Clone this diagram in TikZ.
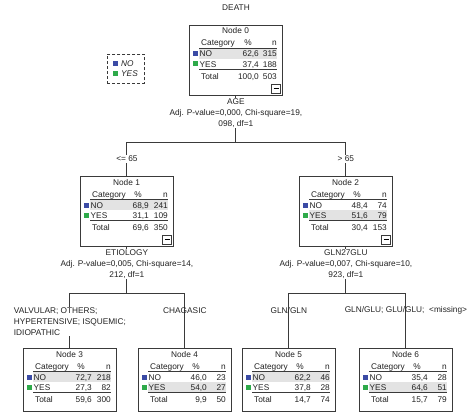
\documentclass[tikz,border=0pt]{standalone}
\usepackage{fontspec}
\setmainfont{Liberation Sans}
\usetikzlibrary{calc}
\definecolor{noblue}{HTML}{3B4BA5}
\definecolor{yesgreen}{HTML}{2EAA4A}
\definecolor{shadegray}{HTML}{E3E3E3}
\definecolor{inkc}{HTML}{222222}
\definecolor{linec}{HTML}{3A3A3A}
\newcommand\DTfont{\fontsize{8.3}{10.8}\selectfont}
\tikzset{
  dtbox/.style={draw=linec, line width=0.75pt, fill=white, minimum width=93pt, inner sep=0pt, anchor=north west},
  dttext/.style={font=\DTfont, text=inkc, inner sep=0pt},
  rule/.style={draw=linec, line width=0.6pt},
  dblrule/.style={draw=linec, line width=1.1pt},
  conn/.style={draw=linec, line width=0.8pt},
  splitlab/.style={font=\DTfont, text=inkc, align=center, fill=white, inner sep=1pt},
  branchlab/.style={font=\DTfont, text=inkc, inner sep=1pt},
  minusbox/.style={draw=linec, line width=0.6pt, fill=white, minimum size=9pt, inner sep=0pt, anchor=south east},
}
% #1 name, #2 number, #3 NO %, #4 NO n, #5 YES %, #6 YES n, #7 total %, #8 total n, #9 centre y of shaded row
\newcommand\DTnode[9]{%
  \node[dtbox, minimum height=\dth pt] (#1) at (0,0) {};
  \fill[shadegray] (9.5,#9-5) rectangle (88,#9+5);
  \node[dttext, anchor=base] (#1ttl) at (46.5,9) {Node #2};
  \node[dttext, anchor=base west] (#1hc) at (12,21) {Category};
  \node[dttext, anchor=base] (#1hp) at (\pctx-11,21) {\%};
  \node[dttext, anchor=base east] (#1hn) at (88,21) {n};
  \draw[rule] (10,23.5) -- (88,23.5);
  \fill[noblue] (3.5,26.5) rectangle (8.5,31.5);
  \node[dttext, anchor=base west] (#1nl) at (10.5,32) {NO};
  \node[dttext, anchor=base east] (#1np) at (\pctx,32) {#3};
  \node[dttext, anchor=base east] (#1nn) at (88,32) {#4};
  \fill[yesgreen] (3.5,36.5) rectangle (8.5,41.5);
  \node[dttext, anchor=base west] (#1yl) at (10.5,42) {YES};
  \node[dttext, anchor=base east] (#1yp) at (\pctx,42) {#5};
  \node[dttext, anchor=base east] (#1yn) at (88,42) {#6};
  \draw[dblrule] (10,44.5) -- (88,44.5);
  \node[dttext, anchor=base west] (#1tl) at (12,54) {Total};
  \node[dttext, anchor=base east] (#1tp) at (\pctx,54) {#7};
  \node[dttext, anchor=base east] (#1tn) at (88,54) {#8};
}
\newcommand\DTminus[1]{%
  \node[minusbox] (#1m) at (92,69) {\rule[1.5pt]{5pt}{0.7pt}};
}
\begin{document}
\begin{tikzpicture}[x=1pt, y=-1pt]
\useasboundingbox (0,0) rectangle (474,420);
\node[dttext] (title) at (236,8) {DEATH};
% legend
\node[draw=linec, line width=0.7pt, dash pattern=on 3pt off 2pt, minimum width=37pt, minimum height=29pt, inner sep=0pt, anchor=north west] (leg) at (107,54) {};
\fill[noblue] (113,61) rectangle (118,66);
\node[dttext, anchor=base west, font=\DTfont\itshape] (legno) at (121,66.5) {NO};
\fill[yesgreen] (113,71) rectangle (118,76);
\node[dttext, anchor=base west, font=\DTfont\itshape] (legyes) at (121,76.5) {YES};
% tree nodes
\def\dth{70}
\begin{scope}[shift={(189,25)}]\def\pctx{70}\DTnode{n0}{0}{62,6}{315}{37,4}{188}{100,0}{503}{29}\DTminus{n0}\end{scope}
\def\pctx{69}
\begin{scope}[shift={(80,176)}]\DTnode{n1}{1}{68,9}{241}{31,1}{109}{69,6}{350}{29}\DTminus{n1}\end{scope}
\begin{scope}[shift={(299,176)}]\DTnode{n2}{2}{48,4}{74}{51,6}{79}{30,4}{153}{39}\DTminus{n2}\end{scope}
\def\dth{63}
\begin{scope}[shift={(23,348)}]\DTnode{n3}{3}{72,7}{218}{27,3}{82}{59,6}{300}{29}\end{scope}
\begin{scope}[shift={(138,348)}]\DTnode{n4}{4}{46,0}{23}{54,0}{27}{9,9}{50}{39}\end{scope}
\begin{scope}[shift={(242,348)}]\DTnode{n5}{5}{62,2}{46}{37,8}{28}{14,7}{74}{29}\end{scope}
\begin{scope}[shift={(359,348)}]\DTnode{n6}{6}{35,4}{28}{64,6}{51}{15,7}{79}{39}\end{scope}
% junctions
\coordinate (j0) at ($(n0.south)+(0,47)$);
\coordinate (j1) at ($(n1.south)+(0,47)$);
\coordinate (j2) at ($(n2.south)+(0,47)$);
% connectors
\draw[conn] (n0.south) -- (j0);
\draw[conn] (n1.north) |- (j0) -| (n2.north);
\draw[conn] (n1.south) -- (j1);
\draw[conn] (n3.north) |- (j1) -| (n4.north);
\draw[conn] (n2.south) -- (j2);
\draw[conn] (n5.north) |- (j2) -| (n6.north);
% split labels
\node[splitlab] (s0) at ($(n0.south)+(0,17.5)$) {AGE\\Adj. P-value=0,000, Chi-square=19,\\098, df=1};
\node[splitlab] (s1) at ($(n1.south)+(0,17.5)$) {ETIOLOGY\\Adj. P-value=0,005, Chi-square=14,\\212, df=1};
\node[splitlab] (s2) at ($(n2.south)+(0,17.5)$) {GLN27GLU\\Adj. P-value=0,007, Chi-square=10,\\923, df=1};
% branch labels
\node[branchlab, fill=white] (b1) at ($(j0 -| n1.north)+(0,16)$) {<= 65};
\node[branchlab, fill=white] (b2) at ($(j0 -| n2.north)+(0,16)$) {> 65};
\node[branchlab, fill=white, align=left] (b3) at ($(j1 -| n3.north)+(0,28)$) {VALVULAR; OTHERS;\\HYPERTENSIVE; ISQUEMIC;\\IDIOPATHIC};
\node[branchlab] (b4) at ($(j1 -| n4.north)+(0,16.5)$) {CHAGASIC};
\node[branchlab] (b5) at ($(j2 -| n5.north)+(0,16.5)$) {GLN/GLN};
\node[branchlab] (b6) at ($(j2 -| n6.north)+(0,16.5)$) {GLN/GLU; GLU/GLU;\ \ <missing>};
\end{tikzpicture}
\end{document}
